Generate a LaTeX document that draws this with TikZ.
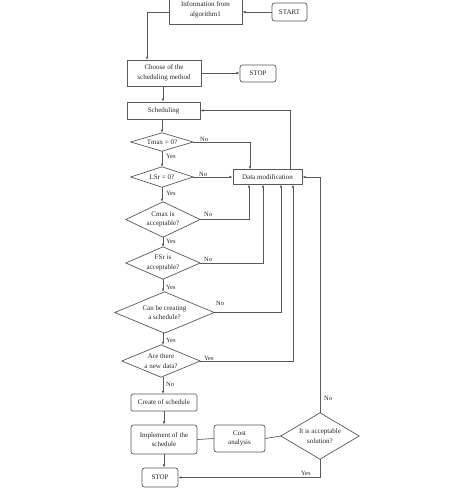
\documentclass[tikz,border=0pt]{standalone}
\usepackage{fontspec}
\setmainfont{Liberation Serif}
\usetikzlibrary{arrows.meta}
\begin{document}
\begin{tikzpicture}[x=1pt,y=-1pt,
  every node/.style={font=\fontsize{7}{9.5}\selectfont, text=black!85, align=center, inner sep=0pt},
  box/.style={draw=black!65, line width=0.7pt, rectangle},
  rbox/.style={box, rounded corners=2.5pt},
  dia/.style={rectangle, inner sep=0pt},
  line/.style={draw=black!65, line width=0.7pt},
  arr/.style={line, -{Latex[length=3.2pt,width=2.6pt]}},
  lab/.style={font=\fontsize{6.5}{8}\selectfont, anchor=west}
]
\useasboundingbox (0,0) rectangle (474,491);
\node[box, minimum width=73pt, minimum height=28pt] (info) at (205.5,10) {Information from\\algorithm1};
\node[rbox, minimum width=35pt, minimum height=18pt] (start) at (289.5,12) {START};
\node[box, minimum width=74pt, minimum height=26pt] (choose) at (164,73) {Choose of the\\scheduling method};
\node[rbox, minimum width=36pt, minimum height=17pt] (stopa) at (258,73.5) {STOP};
\node[box, minimum width=73pt, minimum height=17pt] (sched) at (163.5,110.5) {Scheduling};
\node[dia, minimum width=62pt, minimum height=18pt] (tmax) at (162,142) {Tmax = 0?};
\node[dia, minimum width=62pt, minimum height=20pt] (lsr) at (162,177) {LSr = 0?};
\node[box, minimum width=69pt, minimum height=15pt] (dm) at (267.5,177) {Data modification};
\node[dia, minimum width=74pt, minimum height=35pt] (cmax) at (163,219.5) {Cmax is\\acceptable?};
\node[dia, minimum width=74pt, minimum height=32pt] (fsr) at (163,263) {FSr is\\acceptable?};
\node[dia, minimum width=99pt, minimum height=41pt] (canbe) at (164.5,312.5) {Can be creating\\a schedule?};
\node[dia, minimum width=78pt, minimum height=32pt] (arethere) at (161,361) {Are there\\a new data?};
\node[rbox, rounded corners=1.5pt, minimum width=66pt, minimum height=17pt] (create) at (164,402.5) {Create of schedule};
\node[rbox, minimum width=66pt, minimum height=29pt] (impl) at (164,439.5) {Implement of the\\schedule};
\node[rbox, minimum width=51pt, minimum height=27pt] (cost) at (239.5,438.5) {Cost\\analysis};
\node[dia, minimum width=78pt, minimum height=46pt] (accept) at (320,436) {It is acceptable\\solution?};
\node[rbox, minimum width=36pt, minimum height=19pt] (stopb) at (160,477.5) {STOP};
\foreach \n in {tmax,lsr,cmax,fsr,canbe,arethere,accept}
  \draw[line] (\n.north) -- (\n.east) -- (\n.south) -- (\n.west) -- cycle;

% top part
\draw[arr] (start.west) -- (start.west -| info.east);
\coordinate (k1) at (147,60);
\draw[arr] (info.west |- 0,12) -| (k1);
\draw[arr] (choose.east) -- (choose.east -| stopa.west);
\coordinate (k2) at (163,86);
\draw[arr] (k2) -- (k2 |- sched.north);
% main column
\draw[arr] (sched.south -| tmax.north) -- (tmax.north);
\draw[arr] (tmax.south) -- (lsr.north);
\draw[arr] (lsr.south) -- (lsr.south |- cmax.north);
\draw[arr] (cmax.south) -- (fsr.north);
\draw[arr] (fsr.south) -- (fsr.south |- canbe.north);
\draw[arr] (163,333) -- (163,345);
\draw[arr] (163,377) -- (163,394);
\draw[arr] (create.south) -- (impl.north);
\draw[arr] (impl.south) -- (impl.south |- stopb.north);
% labels yes/no on column
\node[lab] at (166,156) {Yes};
\node[lab] at (166,193) {Yes};
\node[lab] at (166,241) {Yes};
\node[lab] at (166,287) {Yes};
\node[lab] at (166,340) {Yes};
\node[lab] at (166,384) {No};
% to data modification
\coordinate (d1) at (250,169.5);
\draw[arr] (tmax.east) -| (d1);
\node[lab] at (200,139) {No};
\draw[arr] (lsr.east) -- (lsr.east -| dm.west);
\node[lab] at (199,174) {No};
\coordinate (d2) at (249,184.5);
\draw[arr] (cmax.east) -| (d2);
\node[lab] at (204,214) {No};
\coordinate (d3) at (263,184.5);
\draw[arr] (fsr.east) -| (d3);
\node[lab] at (204,259) {No};
\coordinate (d4) at (281,184.5);
\draw[arr] (canbe.east) -| (d4);
\node[lab] at (216,303) {No};
\coordinate (d5) at (293,184.5);
\draw[arr] (arethere.east) -| (d5);
\node[lab] at (204,358) {Yes};
\coordinate (d6) at (290,169.5);
\draw[arr] (d6) |- (sched.east);
\draw[arr] (accept.north) |- (dm.east);
\node[lab] at (324,398) {No};
% bottom
\draw[line] (impl.east) -- (cost.west);
\draw[line] (cost.east) -- (accept.west);
\draw[arr] (accept.south) |- (stopb.east);
\node[lab] at (301,473) {Yes};
\end{tikzpicture}
\end{document}
